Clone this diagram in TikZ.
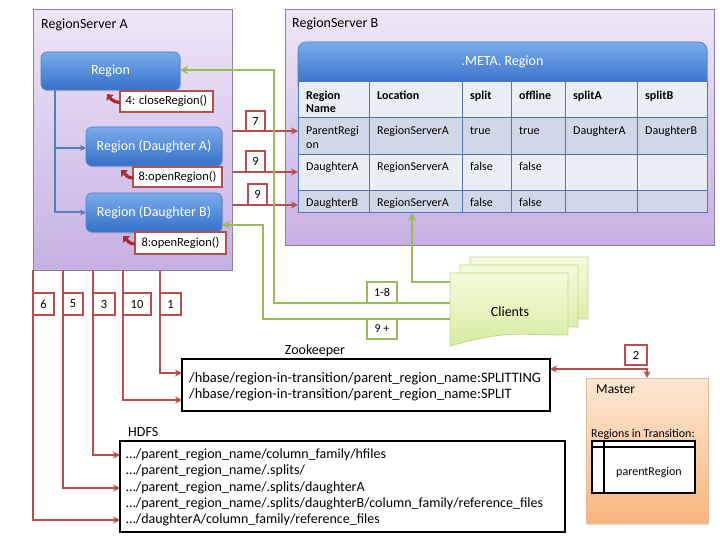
\documentclass[tikz,border=0pt]{standalone}
\usepackage{fontspec}
\setmainfont{Carlito}
\usetikzlibrary{arrows.meta,calc,shadows}
\definecolor{redc}{RGB}{184,78,78}
\definecolor{curlyc}{RGB}{170,45,45}
\definecolor{greenc}{RGB}{155,187,89}
\definecolor{bluec}{RGB}{79,129,189}
\definecolor{rstop}{RGB}{238,230,247}
\definecolor{rsbot}{RGB}{198,176,228}
\definecolor{rsborder}{RGB}{140,128,172}
\definecolor{regtop}{RGB}{122,172,236}
\definecolor{regbot}{RGB}{52,112,202}
\definecolor{regborder}{RGB}{80,128,196}
\definecolor{hdrc}{RGB}{233,237,244}
\definecolor{rowc}{RGB}{208,216,232}
\definecolor{gridc}{RGB}{80,120,182}
\definecolor{mstop}{RGB}{253,232,212}
\definecolor{msbot}{RGB}{249,180,124}
\definecolor{msborder}{RGB}{232,186,150}
\definecolor{cltop}{RGB}{244,251,220}
\definecolor{clbot}{RGB}{214,236,160}
\definecolor{clborder}{RGB}{192,216,140}
\newcommand\pbox[7]{%
  \pgfmathsetmacro\cxx{(#3+#5)/2}\pgfmathsetmacro\cyy{(#4+#6)/2}%
  \pgfmathsetmacro\www{#5-#3}\pgfmathsetmacro\hhh{#6-#4}%
  \node[#1, minimum width=\www pt, minimum height=\hhh pt, inner sep=0pt, outer sep=0pt] (#2) at (\cxx,\cyy) {#7};}
\newcommand\cell[4]{\node[cellt] (#1) at (#2,#3) {#4};}
\begin{document}
\begin{tikzpicture}[x=1pt,y=-1pt,
  every node/.style={font=\fontsize{14}{16}\selectfont},
  rsbox/.style={draw=rsborder, line width=1pt, top color=rstop, bottom color=rsbot},
  regbox/.style={draw=regborder, line width=0.6pt, rounded corners=6pt, top color=regtop, bottom color=regbot, text=white, font=\fontsize{14}{16}\selectfont, drop shadow={opacity=0.3,shadow xshift=1pt,shadow yshift=-1.5pt}},
  redlab/.style={draw=redc, line width=1.5pt, fill=white, font=\fontsize{12.5}{14}\selectfont},
  greenlab/.style={draw=greenc, line width=1.5pt, fill=white, font=\fontsize{12}{14}\selectfont},
  redarr/.style={draw=redc, line width=1.8pt, -{Stealth[length=7pt,width=7pt]}},
  greenarr/.style={draw=greenc, line width=2.5pt, -{Stealth[length=8pt,width=8pt]}},
  bluearr/.style={draw=bluec, line width=2pt, -{Stealth[length=6pt,width=6pt]}},
  curly/.style={draw=curlyc, line width=3.2pt, -{Triangle[length=5pt,width=9pt]}},
  blackbox/.style={draw=black, line width=2.5pt, fill=white},
  cellt/.style={anchor=base west, inner sep=0pt, font=\fontsize{12}{14}\selectfont},
  celltb/.style={cellt, font=\fontsize{12}{14}\selectfont\bfseries},
  plain/.style={inner sep=0pt},
]
\useasboundingbox (0,0) rectangle (720,540);
\fill[white] (0,0) rectangle (720,540);

% Region servers
\pbox{rsbox}{rsA}{33}{10}{232}{270}{}
\pbox{rsbox}{rsB}{285}{10}{714}{245}{}
\node[plain, anchor=west] (rsAt) at (41,25) {RegionServer A};
\node[plain, anchor=west] (rsBt) at (292,24) {RegionServer B};

% regions
\pbox{regbox}{reg}{41}{52}{180}{90}{Region}
\pbox{regbox}{dA}{86}{127}{222}{166}{Region (Daughter A)}
\pbox{regbox}{dB}{86}{193}{222}{232}{Region (Daughter B)}
\pbox{redlab}{close}{120}{91}{213}{112}{4: closeRegion()}
\pbox{redlab}{openA}{133}{167}{222}{187}{8:openRegion()}
\pbox{redlab}{openB}{135}{232}{226}{254}{8:openRegion()}
\draw[curly] ([yshift=-1pt]close.west) .. controls (113,102) and (111,99) .. (107,94);
\draw[curly] ([yshift=-1pt]openA.west) .. controls (127,178) and (125,174) .. (121,170);
\draw[curly] ([yshift=-1pt]openB.west) .. controls (129,244) and (127,240) .. (123,236);

% blue tree
\coordinate (bt) at (55,90);
\draw[bluearr] (bt) |- ([yshift=-1.5pt]dA.west);
\draw[bluearr] (bt) |- (dB.west);

% META table
\shade[top color=regtop, bottom color=regbot, draw=regborder, line width=0.6pt, drop shadow={opacity=0.3,shadow xshift=1pt,shadow yshift=-1.5pt}]
  (298,86) [rounded corners=8pt] -- (298,42) -- (707,42) [sharp corners] -- (707,86) -- cycle;
\node[text=white, font=\fontsize{14}{16}\selectfont] (meta) at (502.5,62) {.META. Region};
\pbox{fill=hdrc}{hrow}{298}{82}{707}{118}{}
\pbox{fill=rowc}{row1}{298}{118}{707}{155}{}
\pbox{fill=hdrc}{row2}{298}{155}{707}{191}{}
\pbox{fill=rowc}{row3}{298}{191}{707}{213}{}
\draw[gridc, line width=1pt] (298,82) rectangle (707,213);
\foreach \yy in {118,155,191} \draw[gridc, line width=1pt] (298,\yy) -- (707,\yy);
\foreach \xx in {369,462,511,565,637} \draw[gridc, line width=1pt] (\xx,82) -- (\xx,213);
\node[celltb] (h1a) at (306,99.5) {Region};
\node[celltb] (h1b) at (306,113) {Name};
\node[celltb] (h2) at (377,99.5) {Location};
\node[celltb] (h3) at (470,99.5) {split};
\node[celltb] (h4) at (519,99.5) {offline};
\node[celltb] (h5) at (573,99.5) {splitA};
\node[celltb] (h6) at (645,99.5) {splitB};
\cell{a1}{306}{135}{ParentRegi}
\cell{a1b}{306}{149}{on}
\cell{a2}{377}{135}{RegionServerA}
\cell{a3}{470}{135}{true}
\cell{a4}{519}{135}{true}
\cell{a5}{573}{135}{DaughterA}
\cell{a6}{645}{135}{DaughterB}
\cell{b1}{306}{171}{DaughterA}
\cell{b2}{377}{171}{RegionServerA}
\cell{b3}{470}{171}{false}
\cell{b4}{519}{171}{false}
\cell{c1}{306}{207}{DaughterB}
\cell{c2}{377}{207}{RegionServerA}
\cell{c3}{470}{207}{false}
\cell{c4}{519}{207}{false}

% red arrows 7, 9, 9
\draw[redarr] (rsA.east |- 0,131) -- (row1.west |- 0,131);
\draw[redarr] (rsA.east |- 0,172) -- (row2.west |- 0,172);
\draw[redarr] (rsA.east |- 0,205) -- (row3.west |- 0,205);
\pbox{redlab}{l7}{246}{111}{265}{131}{7}
\pbox{redlab}{l9a}{246}{151}{265}{172}{9}
\pbox{redlab}{l9b}{248}{184}{267}{205}{9}

% Clients
\foreach \dx/\dy in {20/-16, 10/-8, 0/0}{
  \pgfmathsetmacro\xa{450+\dx}\pgfmathsetmacro\ya{273+\dy}
  \shade[top color=cltop, bottom color=clbot, draw=clborder, line width=0.8pt]
    (\xa,\ya) -- ++(118,0) -- ++(0,62) .. controls ++(-59,0) and ++(59,-16) .. ++(-118,11) -- cycle;
}
\node (clients) at (510,312) {Clients};
\coordinate (cA) at (450,282);
\coordinate (cB) at (450,303);
\coordinate (cC) at (450,319);

% green arrows
\draw[greenarr] (cA) -| (row3.south -| 412,0);
\draw[greenarr] (cB) -| (274,70) -- (reg.east |- 0,70);
\draw[greenarr] (cC) -| (263,225) -- (dB.east |- 0,225);
\pbox{greenlab}{g18}{367}{282}{397}{303}{1-8}
\pbox{greenlab}{g9}{367}{319}{397}{339}{9 +}

% Zookeeper
\pbox{blackbox}{zk}{182}{359}{550}{411}{}
\node[plain] (zkt) at (315,351) {Zookeeper};
\node[plain, anchor=west, align=left, font=\fontsize{14.4}{15.5}\selectfont] (zktext) at (189,386.5)
  {/hbase/region-in-transition/parent\_region\_name:SPLITTING\\/hbase/region-in-transition/parent\_region\_name:SPLIT};

% HDFS
\pbox{blackbox}{hdfs}{120}{441}{565}{532}{}
\node[plain, anchor=west] (hdfst) at (128,432) {HDFS};
\node[plain, anchor=west, align=left, font=\fontsize{14}{16.3}\selectfont] (hdfstext) at (126,487.5)
  {…/parent\_region\_name/column\_family/hfiles\\…/parent\_region\_name/.splits/\\…/parent\_region\_name/.splits/daughterA\\…/parent\_region\_name/.splits/daughterB/column\_family/reference\_files\\…/daughterA/column\_family/reference\_files};

% Master
\pbox{draw=msborder, line width=0.8pt, top color=mstop, bottom color=msbot, drop shadow={opacity=0.25,shadow xshift=1pt,shadow yshift=-1.5pt}}{ms}{586}{378}{708}{523}{}
\node[plain, anchor=west, font=\fontsize{13.5}{16}\selectfont] (mst) at (596,389) {Master};
\node[plain, font=\fontsize{12}{14}\selectfont] (rit) at (643,434) {Regions in Transition:};
\pbox{draw=black, line width=1.5pt, fill=white}{rtab}{592}{441}{695}{493}{}
\draw[black, line width=1.5pt] (rtab.north west |- 0,447) -- (rtab.north east |- 0,447);
\draw[black, line width=1.5pt] (rtab.north west -| 604,0) -- (rtab.south west -| 604,0);
\node[plain, font=\fontsize{12}{14}\selectfont] (pr) at (649,472) {parentRegion};

% red arrows from RegionServer A
\coordinate (s6) at (33,270);
\coordinate (s5) at (63,270);
\coordinate (s3) at (93,270);
\coordinate (s10) at (123,270);
\coordinate (s1) at (160,270);
\draw[redarr] (s1) |- (zk.west |- 0,373);
\draw[redarr] (s10) |- (zk.west |- 0,400);
\draw[redarr] (s3) |- (hdfs.west |- 0,455);
\draw[redarr] (s5) |- (hdfs.west |- 0,488);
\draw[redarr] (s6) |- (hdfs.west |- 0,520);
\pbox{redlab}{l6}{33}{293}{54}{315}{6}
\pbox{redlab}{l5}{63}{293}{83}{315}{5}
\pbox{redlab}{l3}{93}{293}{115}{315}{3}
\pbox{redlab}{l10}{123}{293}{151}{315}{10}
\pbox{redlab}{l1}{160}{293}{181}{315}{1}

% Master <-> Zookeeper
\draw[redarr, {Stealth[length=7pt,width=7pt]}-{Stealth[length=7pt,width=7pt]}] (zk.east |- 0,369) -| (ms.north);
\pbox{redlab}{l2}{625}{345}{647}{365}{2}
\end{tikzpicture}
\end{document}
